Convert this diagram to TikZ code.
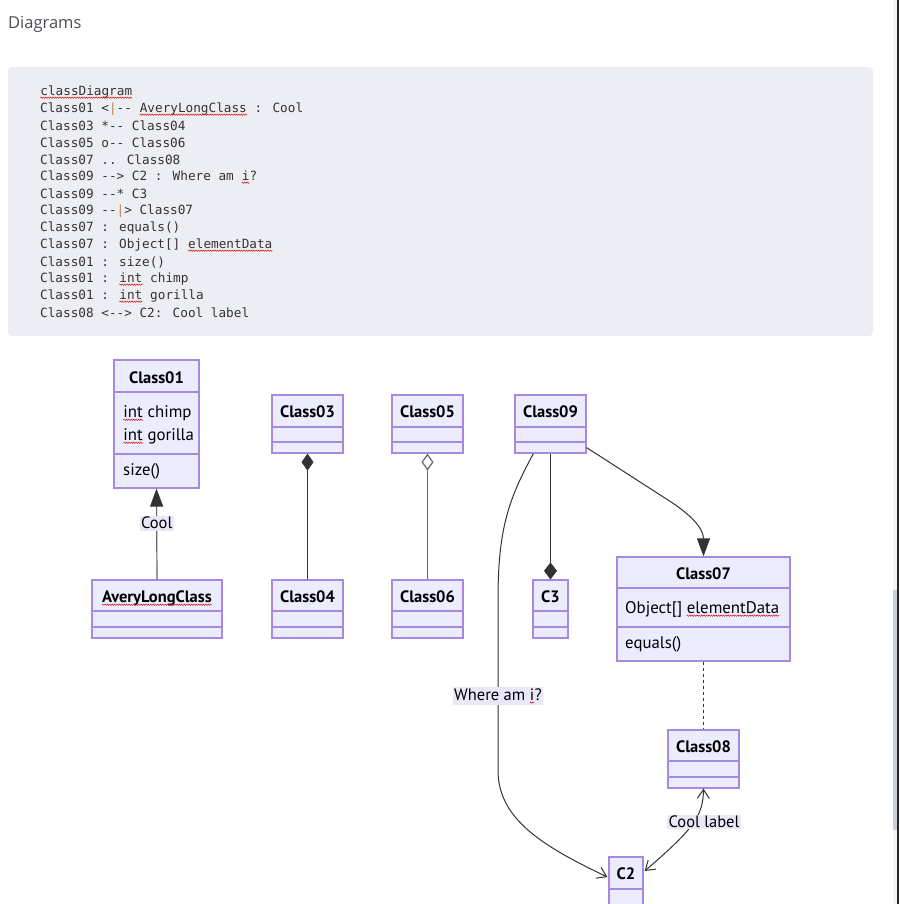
\documentclass[tikz,border=0pt]{standalone}
\usepackage{fontspec}
\setmainfont{PT Sans}
\newfontfamily\codefont{DejaVu Sans Mono}
\newfontfamily\uifont{Open Sans}
\usetikzlibrary{arrows.meta,decorations.pathmorphing,calc}
\definecolor{boxfill}{HTML}{ECECFF}
\definecolor{boxline}{HTML}{A58AE0}
\definecolor{edgec}{HTML}{333333}
\definecolor{edgelight}{HTML}{666666}
\definecolor{codebg}{HTML}{ECEEF3}
\definecolor{codetext}{HTML}{333333}
\definecolor{lblbg}{HTML}{E8E8F8}
\definecolor{titlec}{HTML}{4A4F57}
\definecolor{pipec}{HTML}{C0803A}
\definecolor{track}{HTML}{F1F3F5}
\definecolor{thumb}{HTML}{C5D0DC}
\newcommand{\sqg}[1]{\tikz[baseline=(w.base),x=1pt,y=1pt]{\node[inner sep=0pt,outer sep=0pt,anchor=base,draw=none,fill=none] (w) {#1};\draw[red!85!black,line width=0.45pt,decorate,decoration={zigzag,amplitude=0.7pt,segment length=2.4pt}] ([yshift=-2.6pt]w.base west) -- ([yshift=-2.6pt]w.base east);}}
\newcommand{\pp}{{\color{pipec}|}}
\tikzset{
  cls/.style={draw=boxline,fill=boxfill,line width=1.2pt,inner sep=0pt,rectangle},
  divl/.style={draw=boxline,line width=1.2pt},
  hdr/.style={font=\bfseries\fontsize{16.5}{19}\selectfont,text=black,inner sep=0pt},
  mem/.style={font=\fontsize{16.8}{19}\selectfont,text=black,anchor=west,inner sep=0pt},
  conn/.style={draw=edgec,line width=1pt},
  connl/.style={draw=edgelight,line width=1.2pt},
  elabel/.style={fill=lblbg,inner sep=1.5pt,font=\fontsize{16.5}{19}\selectfont,text=black},
  codeline/.style={anchor=west,inner sep=0pt,font=\codefont\fontsize{12.7}{15}\selectfont,text=codetext},
  filltri/.style={-{Triangle[length=18pt,width=13pt,color=edgec,fill=edgec]}},
}
\begin{document}
\begin{tikzpicture}[x=1pt,y=-1pt,>={Straight Barb[length=9pt,width=12pt,line width=1pt]}]
\useasboundingbox (0,0) rectangle (899,904);
\fill[white] (0,0) rectangle (899,904);
% title
\node[anchor=west,inner sep=0pt,font=\uifont\fontsize{16.5}{19}\selectfont,text=titlec] (title) at (8,24) {Diagrams};
% code block
\fill[codebg,rounded corners=4pt] (8,67) rectangle (873,336);
\node[codeline] (l1) at (40,92) {\sqg{classDiagram}};
\node[codeline] (l2) at (40,109) {Class01 <\pp-{}- \sqg{AveryLongClass} : Cool};
\node[codeline] (l3) at (40,126) {Class03 *-{}- Class04};
\node[codeline] (l4) at (40,143) {Class05 o-{}- Class06};
\node[codeline] (l5) at (40,160) {Class07 .. Class08};
\node[codeline] (l6) at (40,177) {Class09 -{}-> C2 : Where am \sqg{i}?};
\node[codeline] (l7) at (40,194) {Class09 -{}-* C3};
\node[codeline] (l8) at (40,211) {Class09 -{}-\pp> Class07};
\node[codeline] (l9) at (40,228) {Class07 : equals()};
\node[codeline] (l10) at (40,245) {Class07 : Object[] \sqg{elementData}};
\node[codeline] (l11) at (40,262) {Class01 : size()};
\node[codeline] (l12) at (40,279) {Class01 : \sqg{int} chimp};
\node[codeline] (l13) at (40,296) {Class01 : \sqg{int} gorilla};
\node[codeline] (l14) at (40,313) {Class08 <-{}-> C2: Cool label};
% scrollbar
\fill[track] (893,0) rectangle (897,904);
\fill[thumb] (893,590) rectangle (897,830);
\fill[black!85] (897,0) rectangle (899,904);

% ---- classes ----
% Class01
\node[cls,minimum width=85pt,minimum height=128pt] (c01) at (156.5,424) {};
\draw[divl] (c01.west |- 0,392) -- (c01.east |- 0,392);
\draw[divl] (c01.west |- 0,454) -- (c01.east |- 0,454);
\node[hdr] (c01h) at (156.5,378) {Class01};
\node[mem] (c01a1) at (123,413) {\sqg{int} chimp};
\node[mem] (c01a2) at (123,436) {\sqg{int} gorilla};
\node[mem] (c01m1) at (123,471) {size()};
% AveryLongClass
\node[cls,minimum width=130pt,minimum height=58pt] (alc) at (157,609) {};
\draw[divl] (alc.west |- 0,611) -- (alc.east |- 0,611);
\draw[divl] (alc.west |- 0,627) -- (alc.east |- 0,627);
\node[hdr] (alch) at (157,598) {\sqg{AveryLongClass}};
% Class03
\node[cls,minimum width=71pt,minimum height=58pt] (c03) at (307.5,424) {};
\draw[divl] (c03.west |- 0,427) -- (c03.east |- 0,427);
\draw[divl] (c03.west |- 0,442) -- (c03.east |- 0,442);
\node[hdr] (c03h) at (307.5,412) {Class03};
% Class04
\node[cls,minimum width=71pt,minimum height=58pt] (c04) at (307.5,609) {};
\draw[divl] (c04.west |- 0,611) -- (c04.east |- 0,611);
\draw[divl] (c04.west |- 0,627) -- (c04.east |- 0,627);
\node[hdr] (c04h) at (307.5,597) {Class04};
% Class05
\node[cls,minimum width=71pt,minimum height=58pt] (c05) at (427.5,424) {};
\draw[divl] (c05.west |- 0,427) -- (c05.east |- 0,427);
\draw[divl] (c05.west |- 0,442) -- (c05.east |- 0,442);
\node[hdr] (c05h) at (427.5,412) {Class05};
% Class06
\node[cls,minimum width=71pt,minimum height=58pt] (c06) at (427.5,609) {};
\draw[divl] (c06.west |- 0,611) -- (c06.east |- 0,611);
\draw[divl] (c06.west |- 0,627) -- (c06.east |- 0,627);
\node[hdr] (c06h) at (427.5,597) {Class06};
% Class09
\node[cls,minimum width=71pt,minimum height=58pt] (c09) at (550.5,424) {};
\draw[divl] (c09.west |- 0,427) -- (c09.east |- 0,427);
\draw[divl] (c09.west |- 0,442) -- (c09.east |- 0,442);
\node[hdr] (c09h) at (550.5,412) {Class09};
% C3
\node[cls,minimum width=35pt,minimum height=58pt] (cc3) at (550.5,609) {};
\draw[divl] (cc3.west |- 0,611) -- (cc3.east |- 0,611);
\draw[divl] (cc3.west |- 0,627) -- (cc3.east |- 0,627);
\node[hdr] (cc3h) at (550.5,597) {C3};
% Class07
\node[cls,minimum width=173pt,minimum height=104pt] (c07) at (703.5,609) {};
\draw[divl] (c07.west |- 0,588) -- (c07.east |- 0,588);
\draw[divl] (c07.west |- 0,627) -- (c07.east |- 0,627);
\node[hdr] (c07h) at (703.5,574) {Class07};
\node[mem] (c07a1) at (625,609) {Object[] \sqg{elementData}};
\node[mem] (c07m1) at (625,644) {equals()};
% Class08
\node[cls,minimum width=71pt,minimum height=58pt] (c08) at (703.5,759) {};
\draw[divl] (c08.west |- 0,761) -- (c08.east |- 0,761);
\draw[divl] (c08.west |- 0,777) -- (c08.east |- 0,777);
\node[hdr] (c08h) at (703.5,747) {Class08};
% C2
\node[cls,minimum width=34pt,minimum height=58pt] (cc2) at (626,886) {};
\draw[divl] (cc2.west |- 0,889) -- (cc2.east |- 0,889);
\draw[divl] (cc2.west |- 0,905) -- (cc2.east |- 0,905);
\node[hdr] (cc2h) at (626,874) {C2};

% ---- connectors ----
% AveryLongClass --|> Class01
\draw[connl,filltri] (alc.north) -- (c01.south)
  node[pos=0.62,elabel] (lcool) {Cool};
% Class03 *-- Class04
\draw[conn,-{Diamond[length=17pt,width=12pt,fill=edgec]}] (c04.north) -- (c03.south);
% Class05 o-- Class06
\draw[connl,-{Diamond[length=17pt,width=12pt,fill=white]}] (c06.north) -- (c05.south);
% Class09 --* C3
\draw[conn,-{Diamond[length=17pt,width=13pt,fill=edgec]}] (c09.south) -- (cc3.north);
% Class09 --|> Class07
\draw[conn,filltri] ($(c09.south east)+(0,-6)$) -- (668,500)
  .. controls (690,514) and (703.5,528) .. (c07.north);
% Class09 --> C2
\draw[conn,->] ($(c09.south west)+(19,0)$) .. controls (508,500) and (498,530) .. (498,600)
  -- (498,770) .. controls (498,818) and (540,845) .. ($(cc2.west)+(-1,-9)$);
\node[elabel] (lwhere) at (498,696) {Where am \sqg{i}?};
% Class07 .. Class08
\draw[conn,dash pattern=on 3pt off 3pt] (c07.south) -- (c08.north);
% Class08 <--> C2
\draw[conn,<->] (c08.south) .. controls (703,815) and (695,828) .. ($(cc2.east)+(1,-15)$);
\node[elabel] (lcoollbl) at (704,822) {Cool label};
\end{tikzpicture}
\end{document}
